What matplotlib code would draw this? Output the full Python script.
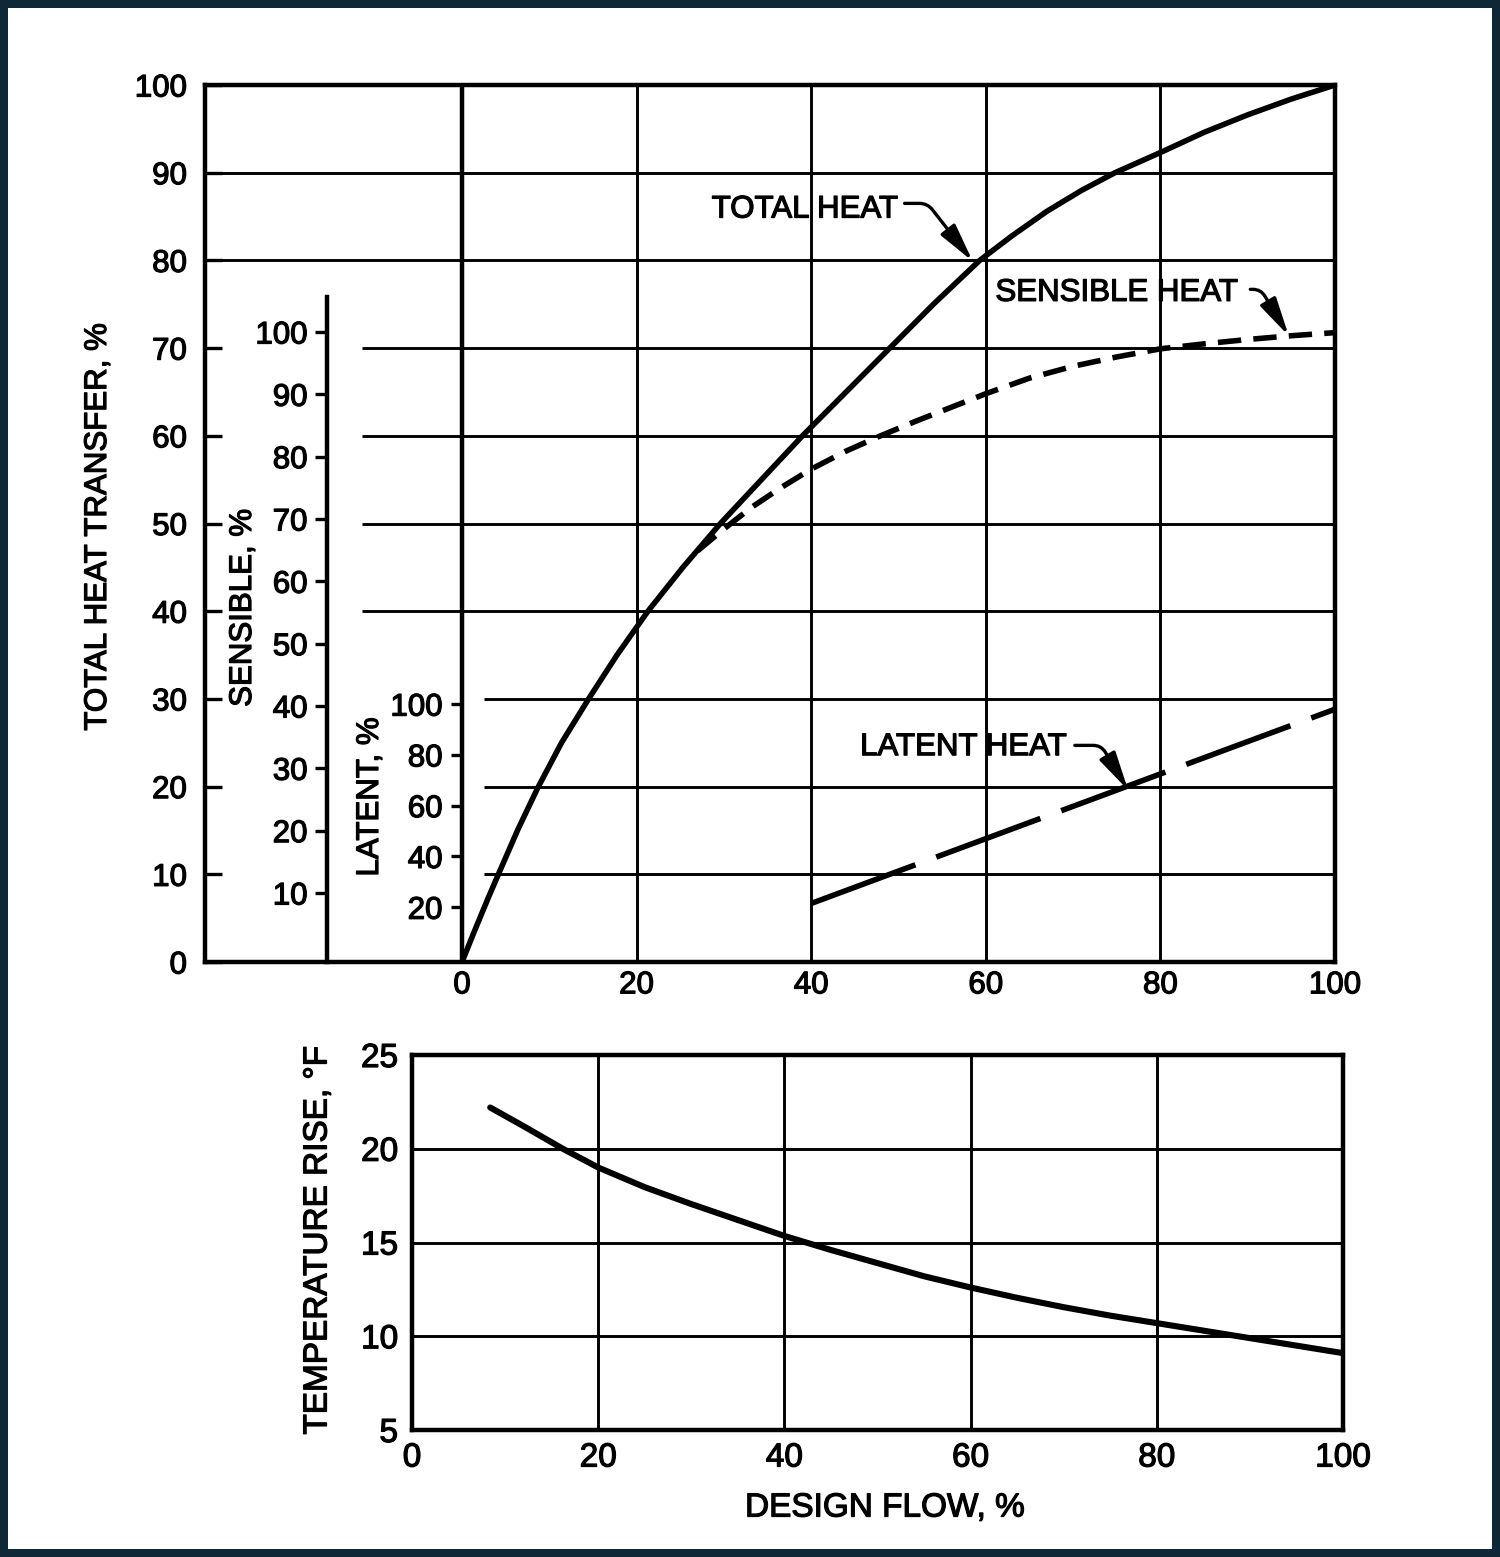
import matplotlib
matplotlib.use('Agg')
import matplotlib.pyplot as plt
import matplotlib.patheffects as pe
from matplotlib.patches import Rectangle
from matplotlib.text import Text

plt.rcParams['font.family'] = ['Liberation Sans', 'DejaVu Sans']

# curves (x = design flow, %)
total_flow = [0, 1.5, 3, 4.3, 6.4, 8.65, 11.4, 14.5, 17.75, 21.3, 25.3, 29.6, 34.3,
              39.0, 44.0, 49.0, 54.0, 59.3, 63, 67, 71, 74.8, 80, 85, 90, 95, 100]
total_heat = [0, 3.7, 7.3, 10.3, 15.1, 19.8, 25, 30, 35, 40, 45, 50, 55,
              60, 65, 70, 75, 80, 82.8, 85.6, 88.0, 90, 92.3, 94.6, 96.6, 98.4, 100]

sensible_flow = [27, 30, 33.2, 36.5, 40, 44, 47.7, 52, 56, 60, 65, 70, 75, 80, 85, 90, 95, 100]
sensible_heat = [64.9, 68.4, 71.9, 75.0, 78.0, 80.9, 83.2, 85.7, 87.9, 90.1, 92.6, 94.5,
                 96.0, 97.3, 98.1, 98.8, 99.4, 99.9]

latent_flow = [40, 100]
latent_heat = [21.5, 98]

rise_flow = [8.4, 12, 16.2, 20, 25, 30, 35, 40, 45, 50, 55, 60, 65, 70, 75, 80, 85, 90, 95, 100]
temp_rise = [22.2, 21.2, 20.0, 19.0, 17.95, 17.05, 16.2, 15.35, 14.6, 13.9, 13.2, 12.6,
             12.05, 11.55, 11.1, 10.7, 10.3, 9.9, 9.5, 9.1]

flow_ticks = [0, 20, 40, 60, 80, 100]
total_ticks = [0, 10, 20, 30, 40, 50, 60, 70, 80, 90, 100]
sensible_ticks = [10, 20, 30, 40, 50, 60, 70, 80, 90, 100]
latent_ticks = [20, 40, 60, 80, 100]
rise_ticks = [5, 10, 15, 20, 25]

W, H = 1500, 1557
fig = plt.figure(figsize=(W / 100, H / 100), dpi=100)
fig.patch.set_facecolor('#0e2838')
fig.patches.append(Rectangle((8 / W, 8 / H), 1 - 16 / W, 1 - 16 / H,
                             transform=fig.transFigure, facecolor='white',
                             edgecolor='none', zorder=-10))

def fx(px):
    return px / W

def fy(py):
    return 1 - py / H

FS = 22.5
SPINE = 3.2
GRID = 2.1
CURVE = 4.0

# ---------------- top chart ----------------
left_px, right_px, top_px, bot_px = 205, 1335, 85, 962
ax1 = fig.add_axes([fx(left_px), fy(bot_px), fx(right_px - left_px), (bot_px - top_px) / H])
ax1.patch.set_alpha(0)
ppu = (right_px - 462) / 100.0
xmin = -(462 - left_px) / ppu
ax1.set_xlim(xmin, 100)
ax1.set_ylim(0, 100)
for s in ax1.spines.values():
    s.set_linewidth(SPINE)
ax1.set_yticks(total_ticks)
ax1.set_xticks(flow_ticks)
ax1.tick_params(axis='y', direction='in', length=12, width=2.4, pad=13, labelsize=FS)
ax1.tick_params(axis='x', length=0, pad=6, labelsize=FS)

# grid
ax1.vlines([t for t in flow_ticks if t < 100], 0, 100, colors='black', lw=GRID)
ax1.vlines(0, 0, 100, colors='black', lw=SPINE)
grid_start = {90: xmin, 80: xmin, 70: -11.45, 60: -11.45, 50: -11.45, 40: -11.45,
              30: 2.5, 20: 2.5, 10: 2.5}
for t in total_ticks[1:-1]:
    ax1.hlines(t, grid_start[t], 100, colors='black', lw=GRID)

ax1.plot(total_flow, total_heat, color='black', lw=CURVE, solid_capstyle='round',
         solid_joinstyle='round')

# sensible axis
s0_px, s_ppu = 955.3, 6.233
ax_s = ax1.twinx()
ax_s.set_ylim(-(bot_px - s0_px) / s_ppu, (s0_px - top_px) / s_ppu)
for k in ['top', 'right', 'bottom']:
    ax_s.spines[k].set_visible(False)
ax_s.yaxis.tick_left()
ax_s.spines['left'].set_position(('data', (327 - 462) / ppu))
ax_s.spines['left'].set_bounds(ax_s.get_ylim()[0], (s0_px - 297) / s_ppu)
ax_s.spines['left'].set_linewidth(SPINE)
ax_s.set_yticks(sensible_ticks)
ax_s.tick_params(axis='y', direction='out', length=9, width=2.4, pad=5, labelsize=FS)
ax_s.plot(sensible_flow, sensible_heat, color='black', lw=CURVE,
          linestyle=(0, (4.2, 2.2)))

# latent axis
l0_px, l_ppu = 966, 2.5625
ax_l = ax1.twinx()
ax_l.set_ylim(-(l0_px - bot_px) / l_ppu, (l0_px - top_px) / l_ppu)
for k in ['top', 'right', 'bottom', 'left']:
    ax_l.spines[k].set_visible(False)
ax_l.yaxis.tick_left()
ax_l.spines['left'].set_position(('data', 0))
ax_l.set_yticks(latent_ticks)
ax_l.tick_params(axis='y', direction='out', length=8, width=2.4, pad=6, labelsize=FS)
ax_l.plot(latent_flow, latent_heat, color='black', lw=CURVE,
          linestyle=(0, (20, 4)))

# labels with leaders
arrow_kw = dict(color='black', lw=2.4, shrinkA=0, shrinkB=0, mutation_scale=18)
head = '-|>,head_length=1.3,head_width=0.3'
ax1.text(28.6, 85.8, 'TOTAL HEAT', fontsize=FS, va='center', ha='left')
ax1.annotate('', xy=(58.5, 79.9), xytext=(50.7, 86.5),
             arrowprops=dict(arrowstyle=head,
                             connectionstyle='angle,angleA=0,angleB=128,rad=8', **arrow_kw))
ax1.text(61.1, 76.3, 'SENSIBLE HEAT', fontsize=FS, va='center', ha='left')
ax1.annotate('', xy=(94.7, 71.4), xytext=(90.3, 76.7),
             arrowprops=dict(arrowstyle=head,
                             connectionstyle='angle,angleA=0,angleB=121,rad=8', **arrow_kw))
ax1.text(45.6, 24.5, 'LATENT HEAT', fontsize=FS, va='center', ha='left')
ax1.annotate('', xy=(76.3, 19.6), xytext=(70.2, 24.7),
             arrowprops=dict(arrowstyle=head,
                             connectionstyle='angle,angleA=0,angleB=121,rad=8', **arrow_kw))

fig.text(fx(98), fy(527), 'TOTAL HEAT TRANSFER, %', rotation=90, fontsize=FS,
         ha='center', va='center')
fig.text(fx(243), fy(608), 'SENSIBLE, %', rotation=90, fontsize=FS,
         ha='center', va='center')
fig.text(fx(370), fy(797), 'LATENT, %', rotation=90, fontsize=FS,
         ha='center', va='center')

# ---------------- bottom chart ----------------
ax2 = fig.add_axes([fx(412), fy(1430), fx(1343 - 412), (1430 - 1055) / H])
ax2.set_xlim(0, 100)
ax2.set_ylim(5, 25)
for s in ax2.spines.values():
    s.set_linewidth(SPINE)
ax2.set_xticks(flow_ticks)
ax2.set_yticks(rise_ticks)
ax2.tick_params(length=0, labelsize=24)
ax2.tick_params(axis='x', pad=9)
ax2.tick_params(axis='y', pad=10)
ax2.vlines(flow_ticks[1:-1], 5, 25, colors='black', lw=GRID)
ax2.hlines(rise_ticks[1:-1], 0, 100, colors='black', lw=GRID)
ax2.plot(rise_flow, temp_rise, color='black', lw=CURVE + 0.4, solid_capstyle='round',
         solid_joinstyle='round')

fig.text(fx(318), fy(1240), 'TEMPERATURE RISE, °F', rotation=90, fontsize=24,
         ha='center', va='center')
fig.text(fx(885), fy(1508), 'DESIGN FLOW, %', fontsize=24, ha='center', va='center')

# heavier strokes on the lettering, like the scanned original
for t in fig.findobj(Text):
    t.set_path_effects([pe.withStroke(linewidth=0.9, foreground='black')])

fig.savefig('out.png', dpi=100, facecolor=fig.get_facecolor())
